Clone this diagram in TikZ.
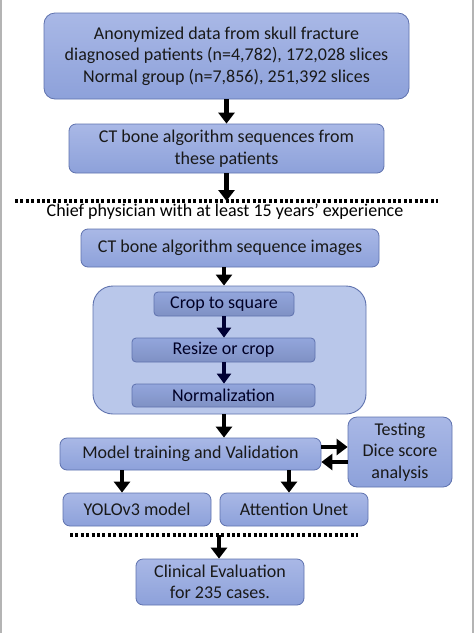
\documentclass[tikz,border=0pt]{standalone}
\usepackage{fontspec}
\setmainfont{Carlito}
\usetikzlibrary{arrows.meta,calc}
\definecolor{boxtop}{HTML}{A9B8E6}
\definecolor{boxbot}{HTML}{8DA1DA}
\definecolor{boxline}{HTML}{5F72AE}
\definecolor{contfill}{HTML}{B9C7EA}
\definecolor{frame}{HTML}{B4B4B4}
\tikzset{
  x=1pt,y=-1pt,
  box/.style={draw=boxline,line width=0.8pt,top color=boxtop,bottom color=boxbot,
    rounded corners=7pt,align=center,inner sep=0pt,font=\fontsize{18}{21.5}\selectfont,text=black!90},
  ibox/.style={box,rounded corners=4pt,top color=boxbot!95!white,bottom color=boxbot!90!black,text=black!85!blue},
  cont/.style={draw=boxline,line width=0.9pt,fill=contfill,rounded corners=20pt,inner sep=0pt},
  arr/.style={line width=4.5pt,-{Triangle[width=16pt,length=11pt]}},
  iarr/.style={line width=4pt,-{Triangle[width=14pt,length=10pt]},draw=black!80!blue},
  dotline/.style={line width=3.6pt,dash pattern=on 3pt off 2.4pt},
}
\begin{document}
\begin{tikzpicture}
\useasboundingbox (0,0) rectangle (474,633);
\fill[white] (0,0) rectangle (474,633);
\draw[frame,line width=2pt] (1,0) -- (1,633);
\draw[frame,line width=2pt] (473,0) -- (473,633);

\node[box,rounded corners=11pt,minimum width=365pt,minimum height=86pt] (b1) at (226.5,56)
  {Anonymized data from skull fracture\\diagnosed patients (n=4,782), 172,028 slices\\Normal group (n=7,856), 251,392 slices};
\node[box,minimum width=315pt,minimum height=49pt] (b2) at (226.5,148.5)
  {CT bone algorithm sequences from\\these patients};
\coordinate (d1) at (226.5,201);
\draw[dotline] (15,201) -- (438,201);
\node[font=\fontsize{18}{21}\selectfont,inner sep=0pt] (chief) at (225,212) {Chief physician with at least 15 years’ experience};
\node[box,minimum width=298pt,minimum height=38pt] (b3) at (230,248) {CT bone algorithm sequence images};
\node[cont,minimum width=273pt,minimum height=128pt] (cont) at (229.5,350) {};
\node[ibox,minimum width=140pt,minimum height=24pt] (crop) at (224,304) {Crop to square};
\node[ibox,minimum width=183pt,minimum height=24pt] (resize) at (223.5,350) {Resize or crop};
\node[ibox,minimum width=183pt,minimum height=23pt] (norm) at (223.5,395.5) {Normalization};
\node[box,minimum width=261pt,minimum height=32pt] (model) at (190.5,454) {Model training and Validation};
\node[box,rounded corners=9pt,minimum width=104pt,minimum height=70pt] (test) at (400,452) {Testing\\Dice score\\analysis};
\node[box,minimum width=148pt,minimum height=33pt] (yolo) at (137,509.5) {YOLOv3 model};
\node[box,minimum width=148pt,minimum height=33pt] (attn) at (294,509.5) {Attention Unet};
\coordinate (d2) at (219,535);
\draw[dotline] (70,535) -- (358,535);
\node[box,minimum width=168pt,minimum height=46pt] (clin) at (220,582) {Clinical Evaluation\\for 235 cases.};
\coordinate (yx) at ([xshift=-15pt]yolo.north);
\coordinate (ax) at ([xshift=-5pt]attn.north);

\draw[arr] (b1.south) -- (b2.north);
\draw[arr] (b2.south) -- (d1);
\draw[arr] (b3.south -| crop.north) -- (cont.north -| crop.north);
\draw[iarr] (crop.south) -- (crop.south |- resize.north);
\draw[iarr] (crop.south |- resize.south) -- (crop.south |- norm.north);
\draw[arr] (cont.south -| crop.south) -- (model.north -| crop.south);
\draw[arr] ([yshift=7pt]model.east) -- ([yshift=7pt]model.east -| test.west);
\draw[arr] ([yshift=-8pt]model.east -| test.west) -- ([yshift=-8pt]model.east);
\draw[arr] (model.south -| yx) -- (yx);
\draw[arr] (model.south -| ax) -- (ax);
\draw[arr] (d2) -- (clin.north -| d2);
\end{tikzpicture}
\end{document}
